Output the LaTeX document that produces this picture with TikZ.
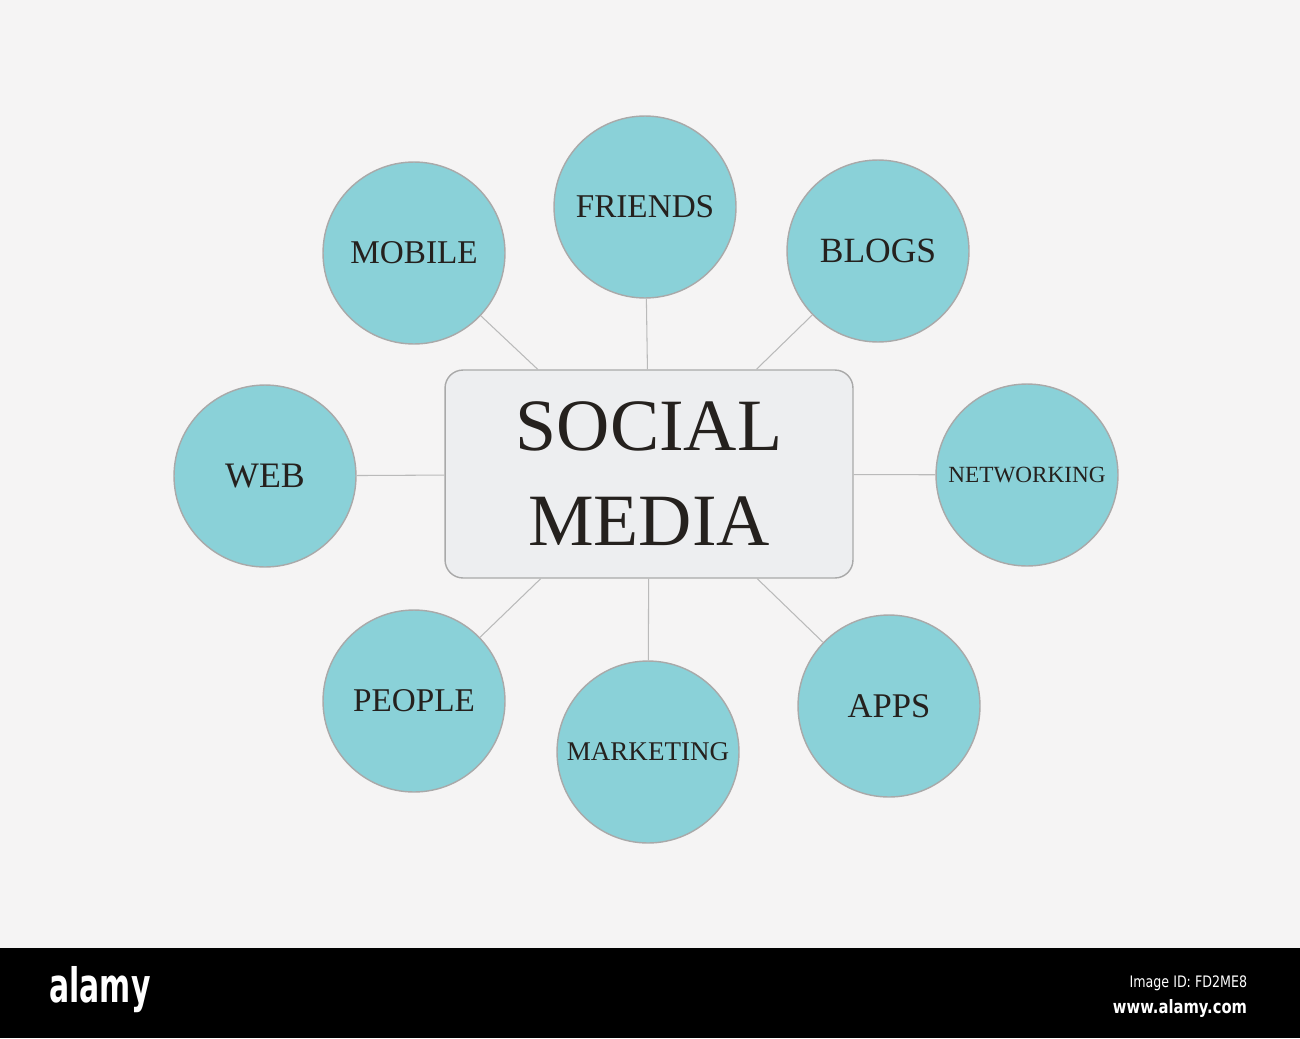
\documentclass[tikz,border=0pt]{standalone}
\usepackage{fontspec}
\setmainfont{Liberation Serif}
\newfontfamily\barfont{DejaVu Sans}
\definecolor{paper}{HTML}{F5F4F4}
\definecolor{teal}{HTML}{8AD1D8}
\definecolor{rim}{HTML}{A9A9A9}
\definecolor{boxfill}{HTML}{EDEEF0}
\definecolor{ink}{HTML}{25211E}
\begin{document}
\begin{tikzpicture}[x=0.02cm,y=-0.02cm,draw=rim]

	\def \rad{3.64cm}
	\tikzstyle{bubble}=[circle,fill=teal,draw=rim,line width=0.8pt,minimum size=\rad,inner sep=0pt,text=ink]
	\tikzstyle{tag}=[font=\fontsize{#1}{#1}\selectfont]
	\tikzstyle{link}=[draw=rim!80,line width=0.6pt]

	% page and banner
	\fill[paper] (0,0) rectangle (1300,948);
	\fill[black] (0,948) rectangle (1300,1038);
	\useasboundingbox (0,0) rectangle (1300,1038);

	% centre box
	\node[draw=rim,fill=boxfill,line width=0.8pt,rounded corners=0.36cm,minimum width=8.16cm,minimum height=4.16cm,
		align=center,text=ink,font=\fontsize{42}{54}\selectfont] (hub) at (649,474) {SOCIAL\\MEDIA};

	% ring of bubbles
	\node[bubble,tag=18.9] 	(friends)	at (645,207)	{FRIENDS};
	\node[bubble,tag=18.9] 	(mobile)	at (414,253)	{MOBILE};
	\node[bubble,tag=20.2] 	(blogs)		at (878,251)	{BLOGS};
	\node[bubble,tag=20.4] 	(web)		at (265,476)	{WEB};
	\node[bubble,tag=13.2] 	(network)	at (1027,475)	{NETWORKING};
	\node[bubble,tag=18.9] 	(people)	at (414,701)	{PEOPLE};
	\node[bubble,tag=15.4] 	(market)	at (648,752)	{MARKETING};
	\node[bubble,tag=19.7] 	(apps)		at (889,706)	{APPS};

	% spokes
	\foreach \b in {friends,mobile,blogs,web,network,people,market,apps}
		\draw[link] (\b) -- (hub);

	% banner text
	\node[text=white,font=\barfont\bfseries\fontsize{27}{27}\selectfont,xscale=0.63,transform shape] (brand) at (100,990) {alamy};
	\node[text=white,font=\barfont\fontsize{9}{9}\selectfont,xscale=0.8,transform shape,anchor=east] (imgid) at (1252,983) {Image ID: FD2ME8};
	\node[text=white,font=\barfont\bfseries\fontsize{10.5}{10.5}\selectfont,xscale=0.8,transform shape,anchor=east] (site) at (1252,1008) {www.alamy.com};
\end{tikzpicture}
\end{document}
